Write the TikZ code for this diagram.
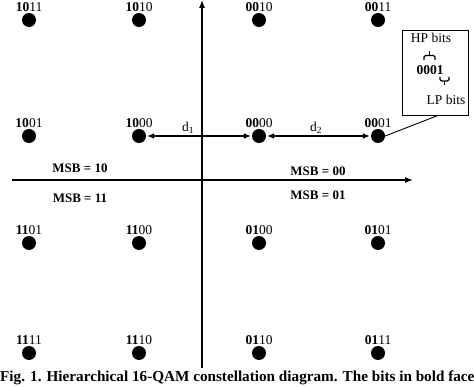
\documentclass[tikz,border=0pt]{standalone}
\usepackage{fontspec}
\setmainfont{Liberation Serif}
\usetikzlibrary{arrows.meta,positioning,calc,decorations.pathreplacing}

\begin{document}
\begin{tikzpicture}[x=1pt,y=-1pt,
  dot/.style={circle,fill=black,inner sep=0pt,minimum size=14pt},
  bits/.style={font=\fontsize{13.5}{14}\selectfont,inner sep=0pt},
  axis/.style={line width=1.3pt,-{Latex[length=8pt,width=6pt]}},
  dist/.style={line width=1.3pt,{Latex[length=7pt,width=6pt]}-{Latex[length=7pt,width=6pt]},shorten <=1pt,shorten >=1pt},
  bracket/.style={line width=1.1pt,rounded corners=1.5pt},
  msb/.style={font=\bfseries\fontsize{13}{14}\selectfont,inner sep=0pt}]
  \useasboundingbox (0,0) rectangle (474,387);
  % axes
  \coordinate (xl) at (12,180);
  \coordinate (xr) at (413,180);
  \coordinate (yb) at (202,368);
  \coordinate (yt) at (202,0);
  \draw[axis] (xl) -- (xr);
  \draw[axis] (yb) -- (yt);
  % constellation points
  \foreach \px/\py/\hp/\lp in {29/20/10/11, 139/20/10/10, 259/20/00/10, 378/20/00/11,
      29/136/10/01, 139/136/10/00, 259/136/00/00, 378/136/00/01,
      29/243/11/01, 139/243/11/00, 259/243/01/00, 378/243/01/01,
      29/353/11/11, 139/353/11/10, 259/353/01/10, 378/353/01/11}
    \node[dot,label={[bits,label distance=1pt]above:\textbf{\hp}\lp}] (p\hp\lp) at (\px,\py) {};
  % distances
  \draw[dist] (p1000) -- (p0000);
  \draw[dist] (p0000) -- (p0001);
  \node[bits] (d1) at (188,128) {d\textsubscript{1}};
  \node[bits] (d2) at (316,128) {d\textsubscript{2}};
  % quadrant labels
  \node[msb] (q10) at (80,168) {MSB = 10};
  \node[msb] (q11) at (80,198) {MSB = 11};
  \node[msb] (q00) at (318,171) {MSB = 00};
  \node[msb] (q01) at (318,195) {MSB = 01};
  % bit legend
  \node[draw,line width=0.9pt,minimum width=66pt,minimum height=85pt,inner sep=0pt] (legend) at (435,72.5) {};
  \node[bits] (hp) at (431,38) {HP bits};
  \node[bits] (cw) at (430,70) {\textbf{0001}};
  \node[bits] (lp) at (446,100) {LP bits};
  \draw[bracket] (424,60) -- (424,55.5) -- (435,55.5) -- (435,60);
  \draw[line width=1.1pt] (429.5,55.5) -- (429.5,51);
  \draw[bracket] (440,77) -- (440,81) -- (449,81) -- (449,77);
  \draw[line width=1.1pt] (444.5,81) -- (444.5,85);
  \draw[line width=0.9pt] (p0001.east) -- ($(legend.south)+(3,0)$);
  % caption
  \node[font=\bfseries\fontsize{15.2}{16}\selectfont,inner sep=0pt,anchor=west] (cap) at (0,378)
    {Fig. 1. Hierarchical 16-QAM constellation diagram. The bits in bold face};
\end{tikzpicture}
\end{document}
